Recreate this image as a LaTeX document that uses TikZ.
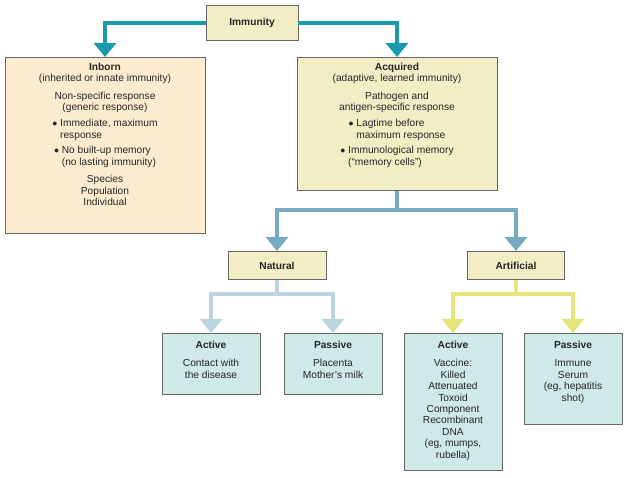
\documentclass[tikz,border=0pt]{standalone}
\usepackage{fontspec}
\setmainfont{Liberation Sans}
\usetikzlibrary{arrows.meta}
\definecolor{tealA}{HTML}{1B9AAE}
\definecolor{blueB}{HTML}{78AAC4}
\definecolor{blueC}{HTML}{BCD4DF}
\definecolor{yelC}{HTML}{E6E47A}
\definecolor{tanF}{HTML}{F3EDC6}
\definecolor{peachF}{HTML}{FDEBCF}
\definecolor{cyanF}{HTML}{CFE8E8}
\tikzset{
  box/.style={draw=black!60, line width=0.8pt, inner sep=0pt, anchor=north},
  txt/.style={inner sep=0pt, align=center, anchor=north, text=black!85,
    font=\fontsize{10.2}{11.4}\selectfont},
  link/.style={line width=4pt, -{Triangle[width=22pt,length=14pt]}}
}
\begin{document}
\begin{tikzpicture}[x=1pt,y=-1pt]
  \useasboundingbox (0,0) rectangle (638,478);
  % top level
  \node[box, fill=tanF, minimum width=92pt, minimum height=35pt] (imm) at (252,5) {};
  \node[txt, anchor=center] (immt) at (imm.center) {\textbf{Immunity}};
  \node[box, fill=peachF, minimum width=200pt, minimum height=176pt] (inb) at (105,57) {};
  \node[txt] (inbt) at (105,63)
    {\textbf{Inborn}\\(inherited or innate immunity)\\[6pt]
     Non-specific response\\(generic response)\\[5pt]
     \begin{tabular}{@{}l@{}}$\bullet$ Immediate, maximum\\\phantom{$\bullet$} response\end{tabular}\\[3pt]
     \begin{tabular}{@{}l@{}}$\bullet$ No built-up memory\\\phantom{$\bullet$} (no lasting immunity)\end{tabular}\\[6pt]
     Species\\Population\\Individual};
  \node[box, fill=tanF, minimum width=200pt, minimum height=133pt] (acq) at (397,57) {};
  \node[txt] (acqt) at (397,63)
    {\textbf{Acquired}\\(adaptive, learned immunity)\\[6pt]
     Pathogen and\\antigen-specific response\\[5pt]
     \begin{tabular}{@{}l@{}}$\bullet$ Lagtime before\\\phantom{$\bullet$} maximum response\end{tabular}\\[3pt]
     \begin{tabular}{@{}l@{}}$\bullet$ Immunological memory\\\phantom{$\bullet$} (``memory cells'')\end{tabular}};
  % second level
  \node[box, fill=tanF, minimum width=98pt, minimum height=28pt] (nat) at (277,251) {};
  \node[txt, anchor=center] (natt) at (nat.center) {\textbf{Natural}};
  \node[box, fill=tanF, minimum width=97pt, minimum height=28pt] (art) at (516,251) {};
  \node[txt, anchor=center] (artt) at (art.center) {\textbf{Artificial}};
  % leaves
  \node[box, fill=cyanF, minimum width=98pt, minimum height=61pt] (nact) at (211,333) {};
  \node[txt] (nactt) at (211,341) {\textbf{Active}\\[7pt]Contact with\\the disease};
  \node[box, fill=cyanF, minimum width=98pt, minimum height=61pt] (npas) at (333,333) {};
  \node[txt] (npast) at (333,341) {\textbf{Passive}\\[7pt]Placenta\\Mother's milk};
  \node[box, fill=cyanF, minimum width=98pt, minimum height=137pt] (aact) at (453,333) {};
  \node[txt] (aactt) at (453,341)
    {\textbf{Active}\\[7pt]Vaccine:\\Killed\\Attenuated\\Toxoid\\Component\\Recombinant\\DNA\\(eg, mumps,\\rubella)};
  \node[box, fill=cyanF, minimum width=98pt, minimum height=91pt] (apas) at (573,333) {};
  \node[txt] (apast) at (573,341) {\textbf{Passive}\\[7pt]Immune\\Serum\\(eg, hepatitis\\shot)};
  % connectors
  \draw[link, tealA] (imm.west) -| (inb.north);
  \draw[link, tealA] (imm.east) -| (acq.north);
  \coordinate (j1) at (397,210);
  \draw[line width=4pt, blueB] (acq.south) -- (j1);
  \draw[link, blueB] (j1) -| (nat.north);
  \draw[link, blueB] (j1) -| (art.north);
  \coordinate (j2) at (277,294);
  \draw[line width=4pt, blueC] (nat.south) -- (j2);
  \draw[link, blueC] (j2) -| (nact.north);
  \draw[link, blueC] (j2) -| (npas.north);
  \coordinate (j3) at (516,294);
  \draw[line width=4pt, yelC] (art.south) -- (j3);
  \draw[link, yelC] (j3) -| (aact.north);
  \draw[link, yelC] (j3) -| (apas.north);
\end{tikzpicture}
\end{document}
